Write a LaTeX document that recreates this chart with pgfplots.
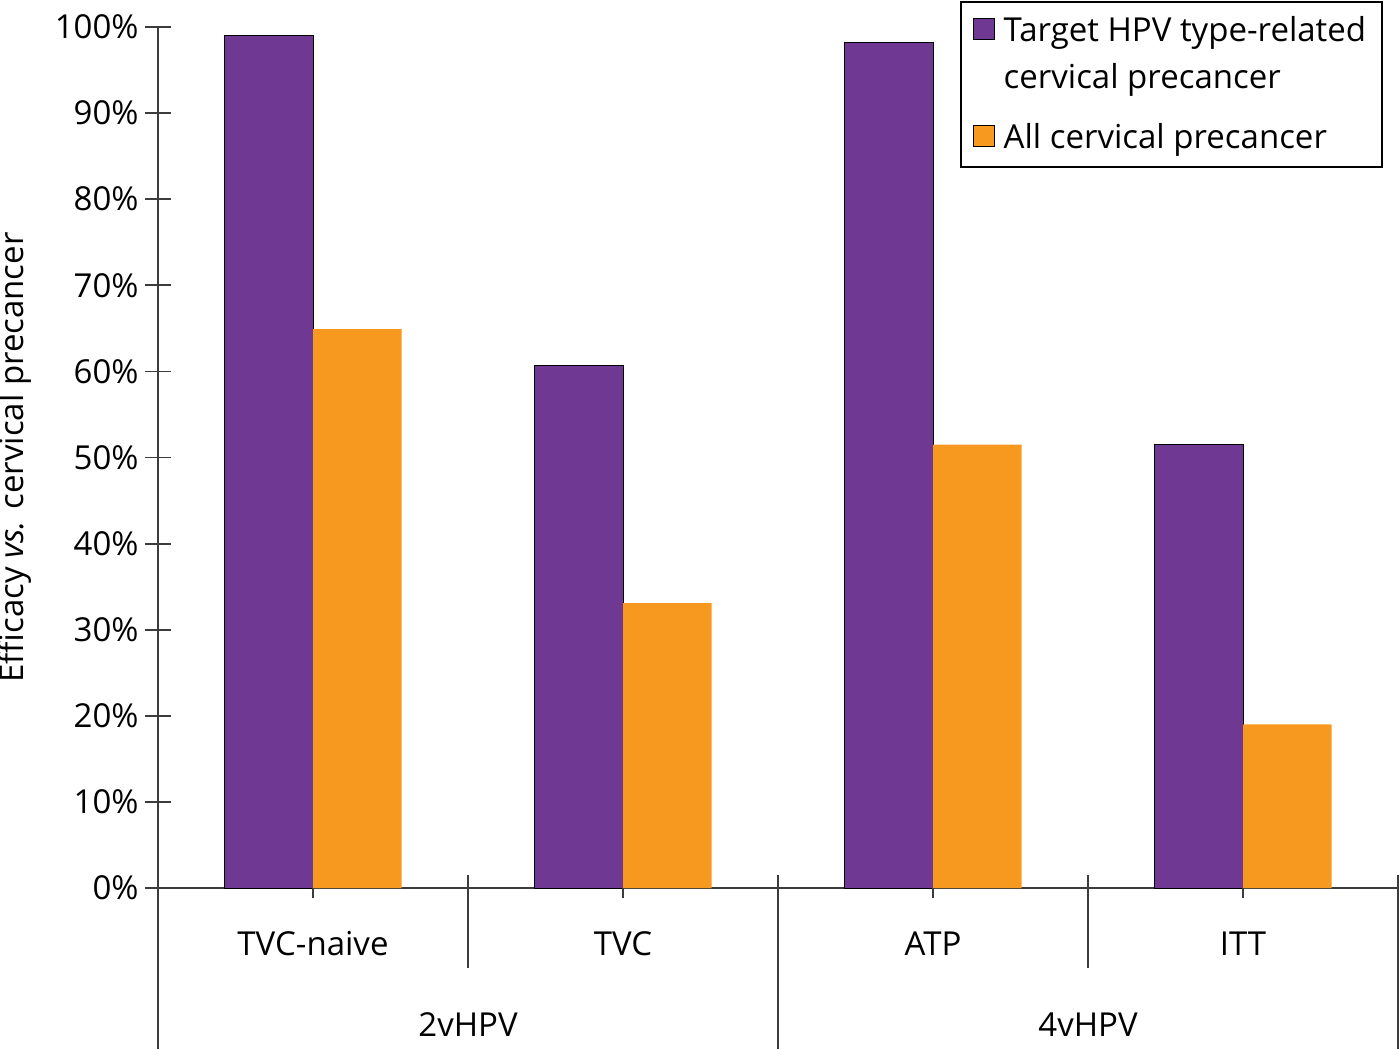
\documentclass[border=0pt]{standalone}
\usepackage{pgfplots}
\pgfplotsset{compat=1.18}
\usepackage{fontspec}
\setmainfont{Open Sans}
\definecolor{hpvpurple}{RGB}{111,56,146}
\definecolor{hpvorange}{RGB}{247,153,31}
\definecolor{axgray}{RGB}{60,60,60}
\newcommand{\fs}{\fontsize{16.5}{20}\selectfont}
\newcommand{\fsl}{\fontsize{16.5}{23.5}\selectfont}
\begin{document}
\begin{tikzpicture}
\begin{axis}[
  at={(0,0)}, anchor=south west,
  scale only axis,
  width=620pt, height=430.5pt,
  xmin=-0.5, xmax=3.5,
  ymin=0, ymax=100,
  axis lines*=left,
  axis line style={axgray, line width=0.9pt},
  clip=false,
  ybar,
  bar width=0.2855,
  ytick={0,10,...,100},
  yticklabel={\pgfmathprintnumber{\tick}\%},
  /pgf/number format/assume math mode=true,
  tick align=center,
  major tick length=13pt,
  ytick style={axgray, line width=0.9pt},
  xtick={0,1,2,3},
  xticklabels={TVC-naive,TVC,ATP,ITT},
  xtick style={draw=none},
  ticklabel style={font=\fs},
  yticklabel style={anchor=east, inner sep=0pt, xshift=-3pt},
  xticklabel style={anchor=center, inner sep=0pt, yshift=-21.5pt},
  ylabel={Efficacy \textit{vs.} cervical precancer},
  ylabel style={font=\fs, at={(axis description cs:-0.1153,0.5)}, anchor=center},
  legend style={font=\fsl, draw=black, line width=0.9pt, at={(rel axis cs:0.9879,1.0305)}, anchor=north east,
    cells={align=left, anchor=west}, row sep=12pt, column sep=2.5pt, inner xsep=6pt, inner ysep=5.5pt},
  legend image code/.code={\draw[#1, line width=0.5pt] (0pt,-4.5pt) rectangle (10.5pt,6pt);},
]
\addplot[fill=hpvpurple, draw=black, line width=0.5pt, bar shift=-0.14275,
  legend image code/.code={\draw[fill=hpvpurple, draw=black, line width=0.5pt] (0pt,7.25pt) rectangle (10.5pt,17.75pt);}]
  coordinates {(0,99.0) (1,60.7) (2,98.2) (3,51.5)};
\addlegendentry{Target HPV type-related\\cervical precancer}
\addplot[fill=hpvorange, draw=none, bar shift=0.14275] coordinates {(0,64.9) (1,33.1) (2,51.5) (3,19.0)};
\addlegendentry{All cervical precancer}
% category ticks
\pgfplotsinvokeforeach{0,1,2,3}{
  \draw[axgray, line width=0.9pt] (axis cs:#1,0) -- ([yshift=-5pt]axis cs:#1,0);
}
% dividers
\pgfplotsinvokeforeach{0.5,2.5}{
  \draw[axgray, line width=0.9pt] ([yshift=6.5pt]axis cs:#1,0) -- ([yshift=-40pt]axis cs:#1,0);
}
\pgfplotsinvokeforeach{1.5,3.5}{
  \draw[axgray, line width=0.9pt] ([yshift=6.5pt]axis cs:#1,0) -- ([yshift=-80.5pt]axis cs:#1,0);
}
\draw[axgray, line width=0.9pt] (axis cs:-0.5,0) -- ([yshift=-80.5pt]axis cs:-0.5,0);
\node[font=\fs, anchor=center] at ([yshift=-68.5pt]axis cs:0.5,0) {2vHPV};
\node[font=\fs, anchor=center] at ([yshift=-68.5pt]axis cs:2.5,0) {4vHPV};
\end{axis}
\pgfresetboundingbox
\useasboundingbox (-79pt,-80.5pt) rectangle (621pt,444pt);
\end{tikzpicture}
\end{document}
